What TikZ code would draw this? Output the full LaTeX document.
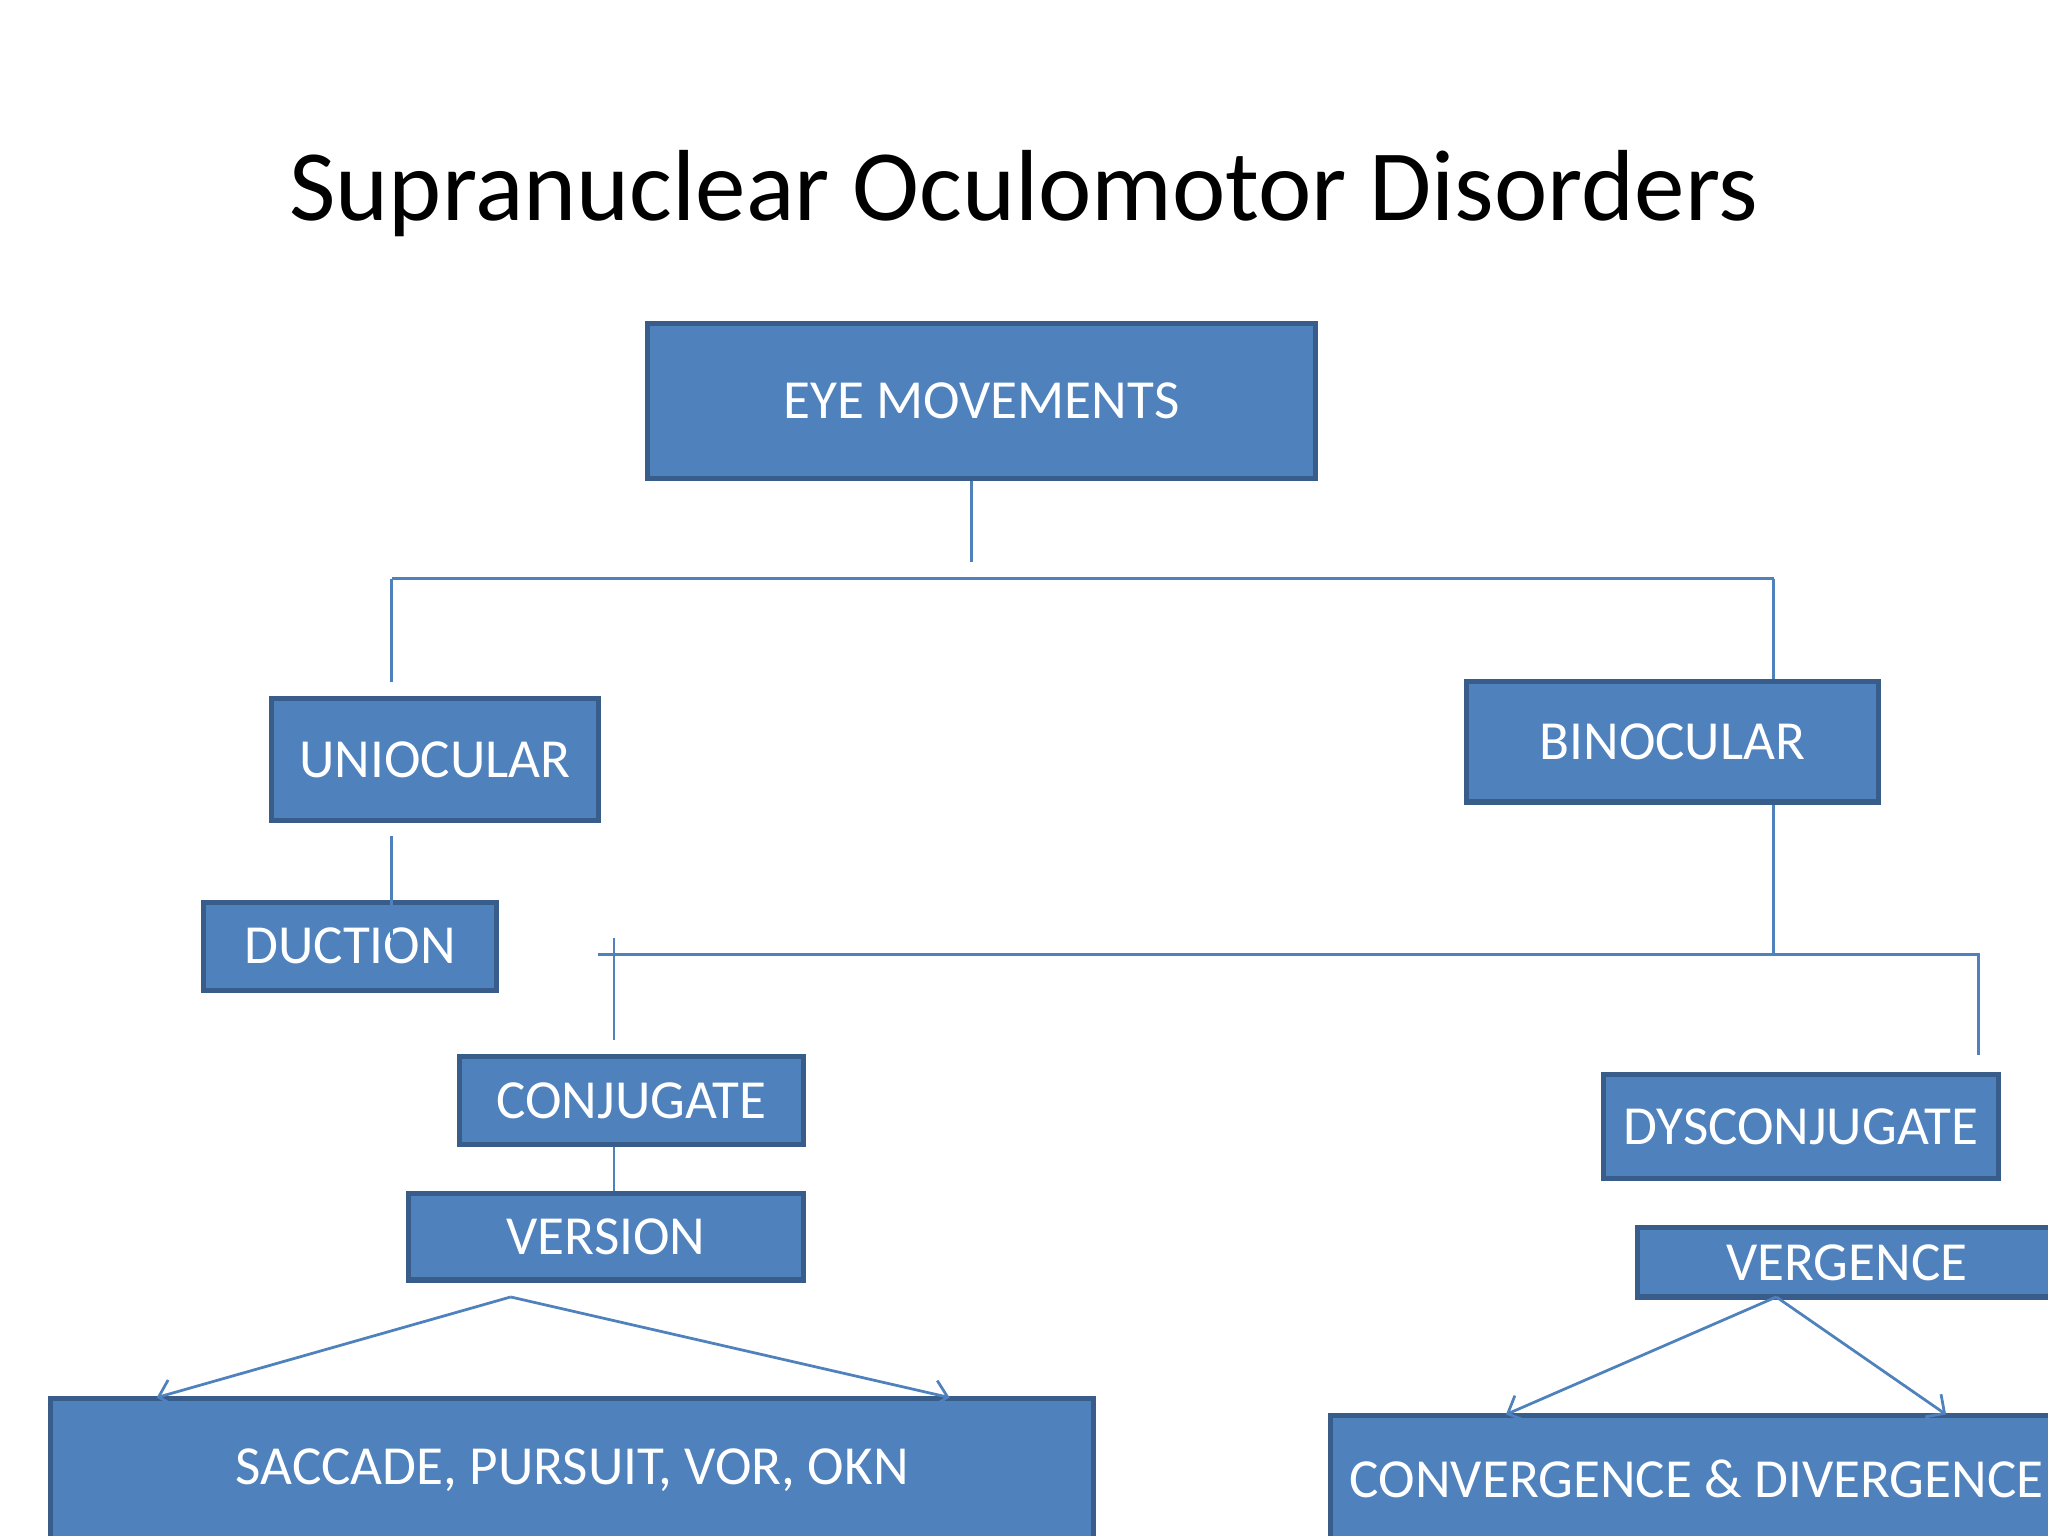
\documentclass[tikz,border=0pt]{standalone}
\usepackage{fontspec}
\setmainfont{Carlito}
\usetikzlibrary{arrows.meta}
\definecolor{boxblue}{HTML}{4F81BD}
\definecolor{boxedge}{HTML}{385D8A}
\begin{document}
\begin{tikzpicture}[x=0.01cm, y=-0.01cm,
    box/.style={draw=boxedge, fill=boxblue, line width=1.1pt, text=white,
                font=\fontsize{12}{14}\selectfont, inner sep=0pt},
    link/.style={draw=boxblue, line width=0.6pt},
    tip/.style={link, -{Straight Barb[length=3pt, width=6pt]}}]
  \useasboundingbox (0,0) rectangle (1568,1176);
  \clip (0,0) rectangle (1568,1176);

  % title
  \node[font=\fontsize{22}{26}\selectfont] (title) at (784,148) {Supranuclear Oculomotor Disorders};

  % boxes
  \node[box, minimum width=5.11cm, minimum height=1.18cm] (eye)  at (751.5,307)  {EYE MOVEMENTS};
  \node[box, minimum width=2.50cm, minimum height=0.93cm] (uni)  at (333,581.5)  {UNIOCULAR};
  \node[box, minimum width=3.15cm, minimum height=0.92cm] (bin)  at (1280.5,568) {BINOCULAR};
  \node[box, minimum width=2.24cm, minimum height=0.67cm] (duc)  at (268,724.5)  {DUCTION};
  \node[box, minimum width=2.63cm, minimum height=0.67cm] (conj) at (483.5,842.5) {CONJUGATE};
  \node[box, minimum width=3.02cm, minimum height=0.66cm] (vers) at (464,947)    {VERSION};
  \node[box, minimum width=3.02cm, minimum height=0.79cm] (dys)  at (1379,862.5) {DYSCONJUGATE};
  \node[box, minimum width=3.20cm, minimum height=0.53cm] (verg) at (1414,966.5) {VERGENCE};
  \node[box, minimum width=7.98cm, minimum height=1.10cm] (sacc) at (438,1125.5) {SACCADE, PURSUIT, VOR, OKN};
  \node[box, minimum width=5.60cm, minimum height=0.96cm] (conv) at (1299,1132)  {CONVERGENCE \& DIVERGENCE};

  % connectors
  \coordinate (topmid) at (744,443);
  \coordinate (topl) at (300,443);
  \coordinate (topr) at (1358,443);
  \coordinate (midl) at (458,731);
  \coordinate (midr) at (1515,731);
  \draw[link] (eye.south -| topmid) -- (744,430);
  \draw[link] (topl) -- (topr);
  \draw[link] (topl) -- (300,522);
  \draw[link] (topr) -- (bin.north -| topr);
  \draw[link] (300,640) -- (300,718);
  \draw[link] (bin.south -| topr) -- (1358,731);
  \draw[link] (midl) -- (midr) -- (1515,808);
  \draw[link] (470,718) -- (470,796);
  \draw[link] (conj.south -| 470,0) -- (vers.north -| 470,0);

  \coordinate (vfork) at (391,993);
  \draw[tip] (vfork) -- (120,1070);
  \draw[tip] (vfork) -- (727,1070);
  \coordinate (gfork) at (1360,993);
  \draw[tip] (gfork) -- (1153,1083);
  \draw[tip] (gfork) -- (1490,1083);
\end{tikzpicture}
\end{document}
